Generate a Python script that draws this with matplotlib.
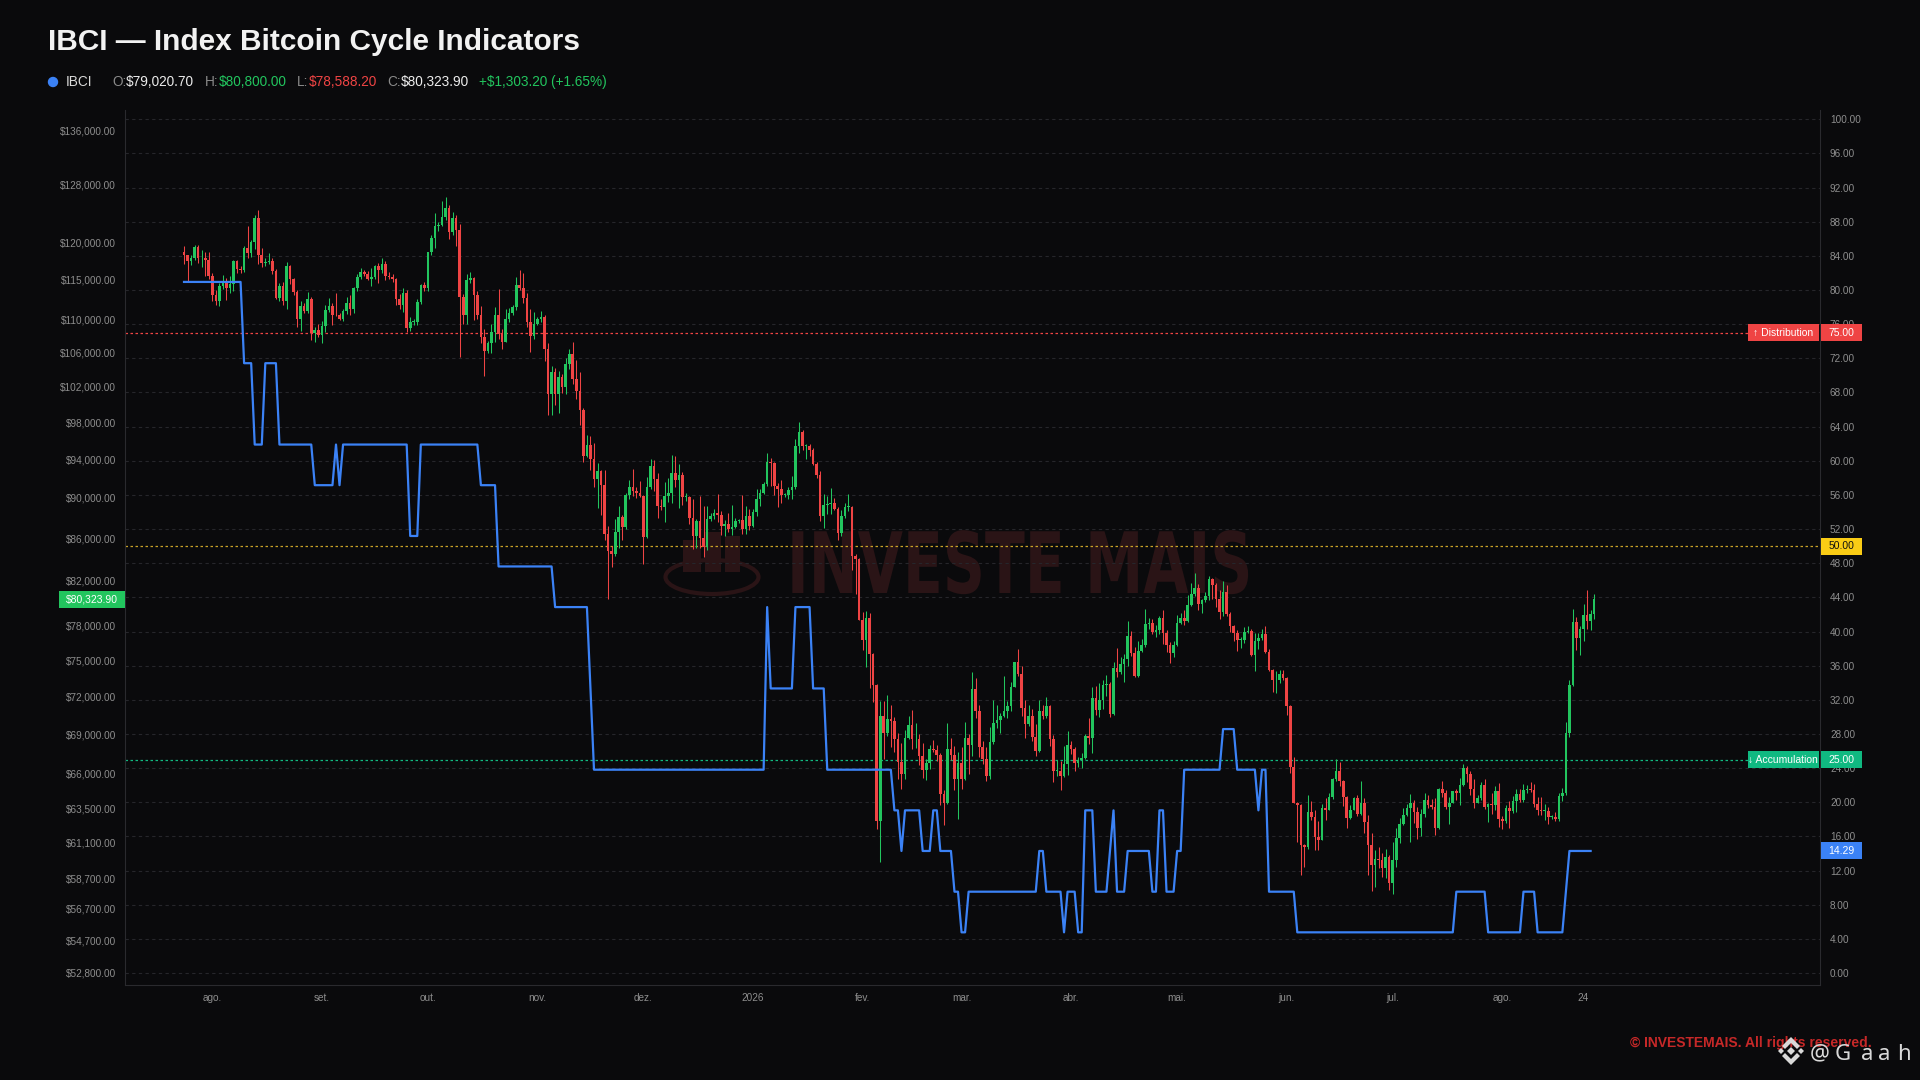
import numpy as np
import matplotlib
matplotlib.use("Agg")
import matplotlib.pyplot as plt
from matplotlib.patches import Ellipse, Rectangle, Polygon
from matplotlib.patheffects import AbstractPathEffect
from matplotlib.transforms import Affine2D
from matplotlib.ticker import NullLocator, NullFormatter

plt.rcParams['font.family'] = ['Liberation Sans', 'DejaVu Sans']

W, H = 1920, 1080
BG = '#0a0a0c'
GREEN = '#22c55e'
RED = '#ef4444'
BLUE = '#3b82f6'
GRID = '#26262b'
TICK = '#8e8e8e'
MARK = '#2a1416'

# day 0 = 1 Aug 2025, one candle per day (prices in k$)
first_day = -8
first_open = 118.7

closes = [
    118.2, 117.5, 117.9, 119.3, 117.8, 117.8, 117.6, 115.5, 113.0, 112.3,
    114.2, 114.8, 114.0, 114.5, 117.5, 116.4, 116.3, 119.2, 118.5, 120.0,
    123.3, 118.2, 117.2, 117.4, 117.5, 116.1, 112.7, 114.2, 112.3, 116.8,
    115.1, 113.4, 110.0, 111.7, 111.1, 112.5, 108.3, 108.7, 108.1, 109.2,
    111.2, 111.7, 110.6, 110.5, 110.1, 111.0, 112.0, 111.3, 113.9, 115.4,
    116.0, 115.8, 115.1, 115.4, 116.8, 116.3, 117.1, 115.5, 115.4, 115.1,
    112.6, 111.8, 113.3, 108.9, 109.7, 109.7, 112.2, 114.3, 113.9, 118.6,
    120.5, 122.2, 122.3, 123.4, 124.7, 121.3, 123.3, 121.6, 112.8, 110.6,
    115.0, 115.2, 113.0,
    110.6, 107.9, 106.2, 107.1, 108.5, 110.5, 108.2, 107.3, 110.0, 110.8,
    111.5, 114.4, 113.9, 112.7, 109.7, 108.0, 109.4, 110.0, 110.3, 106.4,
    101.2, 103.7, 101.1, 103.1, 102.0, 104.6, 105.8, 102.9, 101.5, 99.4,
    94.3, 95.5, 94.0, 91.9, 92.8, 91.3, 86.4, 84.8, 84.5, 86.6,
    88.1, 87.1, 90.3, 91.1, 90.7, 90.5, 90.2, 86.1, 91.1, 93.3,
    91.9, 89.2, 89.1, 90.2, 90.5, 92.6, 91.8, 92.4, 90.1, 90.1,
    88.0, 86.2, 87.7, 86.0, 85.2, 87.9, 88.2, 88.5, 88.3, 87.2,
    87.4, 86.9, 87.1, 87.7, 87.8, 86.9, 88.2, 87.2, 88.6, 89.9,
    90.5, 91.4, 93.7,
    93.6, 91.2, 90.9, 90.3, 90.3, 90.8, 91.1, 95.4, 96.9, 95.4,
    95.4, 95.0, 93.5, 92.4, 88.2, 89.3, 89.4, 89.5, 88.9, 86.5,
    88.2, 89.1, 89.1, 84.3, 84.0, 78.5, 76.7, 78.6, 75.5, 72.9,
    62.6, 70.4, 69.1, 70.2, 70.0, 68.6, 66.9, 66.0, 68.7, 69.7,
    68.6, 68.6, 67.3, 66.3, 66.8, 67.9, 67.8, 67.4, 64.5, 63.9,
    67.9, 67.4, 65.6, 66.8, 65.6, 68.7, 68.2, 72.6, 70.8, 68.0,
    67.1, 65.8, 68.4, 69.9, 70.1, 70.4, 70.8, 71.2, 72.8, 74.8,
    73.8, 71.1, 69.8, 70.4, 68.8, 67.7, 70.8, 70.4, 71.2, 68.6,
    66.2, 66.2, 65.8,
    66.7, 68.2, 67.9, 66.8, 67.0, 67.2, 68.9, 68.7, 71.9, 70.9,
    71.7, 72.9, 73.0, 70.6, 74.3, 74.0, 74.7, 75.1, 77.1, 75.6,
    73.7, 75.8, 76.3, 78.1, 78.2, 77.4, 77.6, 78.6, 77.3, 76.3,
    75.6, 76.3, 78.2, 78.6, 78.4, 79.8, 80.8, 81.3, 79.9, 80.2,
    80.6, 82.2, 81.6, 80.3, 79.2, 81.0, 79.0, 77.9, 77.3, 76.7,
    76.7, 77.4, 77.5, 75.4, 76.6, 76.9, 77.2, 75.7, 74.2, 73.3,
    73.3, 73.8, 73.5, 71.2, 66.5, 63.9, 63.7, 60.9, 60.8, 63.2,
    62.9, 61.5, 61.3, 63.5, 63.4, 64.3, 65.6, 66.2, 65.5, 64.3,
    62.8, 63.4, 64.2, 63.1,
    63.9, 62.5, 60.9, 59.6, 60.0, 59.9, 59.4, 60.1, 58.4, 59.9,
    61.4, 62.4, 63.0, 63.5, 63.9, 63.2, 62.1, 63.1, 64.1, 63.7,
    63.6, 62.1, 64.9, 64.6, 63.6, 63.9, 64.7, 64.6, 65.2, 66.4,
    66.0, 64.9, 63.9, 64.2, 65.2, 63.6, 63.8, 63.7, 64.7, 62.7,
    62.6, 63.5, 63.3, 64.0, 64.5, 64.1, 64.8, 64.9, 64.8, 63.8,
    63.4, 63.3, 63.3, 62.9, 62.9, 62.7, 64.4, 64.6, 69.1, 72.9,
    78.3, 76.9, 77.7, 78.9, 78.4, 79.0207,
]

# wick length beyond the body, in tenths of a percent
wick_up = [
    6, 1, 3, 3, 3, 10, 7, 9, 3, 6, 3, 7, 4, 9, 1, 1, 3, 2, 25, 2,
    3, 9, 8, 4, 9, 3, 3, 3, 5, 5, 1, 1, 3, 5, 3, 8, 3, 3, 7, 5,
    5, 9, 3, 24, 3, 3, 7, 10, 2, 3, 5, 2, 3, 10, 1, 4, 6, 3, 5, 3,
    1, 5, 6, 3, 6, 3, 3, 1, 4, 1, 4, 15, 4, 18, 12, 3, 7, 3, 7, 3,
    7, 7, 1,
    5, 10, 9, 3, 9, 9, 30, 6, 12, 6, 3, 8, 16, 17, 6, 15, 14, 3, 7, 2,
    7, 7, 4, 7, 3, 7, 6, 14, 21, 22, 2, 12, 10, 18, 9, 1, 17, 9, 6, 15,
    12, 2, 2, 8, 20, 4, 13, 1, 11, 8, 7, 7, 8, 16, 17, 20, 19, 12, 3, 4,
    1, 22, 2, 28, 37, 15, 3, 4, 21, 4, 5, 12, 25, 3, 1, 28, 11, 8, 3, 11,
    4, 2, 10,
    5, 1, 4, 10, 2, 3, 13, 8, 11, 3, 2, 2, 2, 2, 4, 12, 9, 17, 5, 2,
    7, 4, 14, 1, 2, 1, 9, 8, 6, 1, 2, 17, 17, 27, 16, 5, 7, 21, 9, 10,
    17, 19, 6, 15, 5, 4, 10, 5, 2, 5, 29, 12, 10, 12, 18, 18, 5, 19, 12, 7,
    7, 14, 17, 26, 17, 4, 41, 6, 5, 1, 15, 10, 9, 13, 8, 14, 13, 7, 10, 1,
    5, 13, 11,
    21, 15, 4, 2, 4, 5, 2, 20, 12, 13, 19, 6, 10, 2, 7, 23, 8, 5, 16, 5,
    7, 11, 7, 17, 6, 4, 5, 3, 10, 4, 3, 4, 9, 6, 9, 11, 12, 17, 5, 2,
    5, 3, 1, 2, 10, 12, 8, 2, 2, 4, 3, 6, 6, 2, 9, 5, 6, 9, 3, 1,
    11, 5, 5, 1, 1, 11, 1, 1, 2, 20, 13, 7, 18, 5, 11, 5, 1, 14, 10, 1,
    1, 5, 1, 4,
    25, 5, 8, 14, 10, 13, 8, 9, 2, 21, 11, 6, 8, 5, 10, 3, 6, 5, 8, 5,
    7, 10, 1, 9, 3, 6, 1, 3, 8, 5, 3, 3, 11, 4, 3, 6, 1, 12, 6, 10,
    4, 3, 8, 6, 6, 6, 7, 4, 8, 7, 8, 14, 8, 4, 2, 5, 3, 5, 12, 6,
    15, 5, 3, 12, 28, 4,
]
wick_dn = [
    10, 24, 5, 3, 5, 10, 18, 3, 6, 5, 6, 3, 14, 6, 8, 4, 3, 2, 5, 4,
    8, 9, 5, 3, 3, 3, 1, 3, 5, 9, 5, 3, 8, 13, 3, 3, 8, 10, 2, 9,
    7, 3, 12, 1, 2, 3, 3, 7, 5, 3, 3, 3, 1, 8, 3, 15, 3, 4, 2, 3,
    7, 5, 8, 4, 3, 3, 4, 3, 3, 3, 3, 11, 6, 1, 3, 7, 3, 18, 65, 10,
    10, 3, 27,
    5, 7, 28, 3, 11, 12, 5, 8, 1, 3, 2, 3, 2, 6, 6, 18, 4, 1, 3, 13,
    24, 24, 12, 21, 7, 8, 5, 6, 9, 17, 6, 1, 12, 9, 32, 33, 7, 53, 15, 2,
    18, 14, 2, 4, 6, 6, 1, 30, 1, 2, 13, 14, 4, 17, 7, 11, 8, 31, 9, 5,
    7, 14, 13, 11, 12, 4, 2, 3, 8, 10, 11, 3, 7, 1, 2, 5, 5, 5, 1, 5,
    8, 1, 2,
    25, 10, 20, 9, 2, 4, 10, 2, 8, 4, 14, 7, 1, 4, 6, 13, 10, 11, 1, 8,
    3, 2, 5, 15, 38, 1, 11, 30, 37, 19, 9, 45, 29, 3, 28, 14, 19, 17, 6, 1,
    11, 10, 10, 9, 12, 7, 2, 7, 12, 25, 2, 5, 12, 44, 11, 1, 33, 13, 7, 11,
    5, 5, 3, 2, 6, 14, 1, 8, 5, 1, 2, 9, 16, 2, 5, 5, 1, 3, 2, 7,
    12, 5, 15,
    1, 12, 6, 9, 4, 8, 1, 7, 17, 5, 8, 10, 12, 3, 1, 6, 2, 20, 8, 3,
    1, 1, 2, 2, 5, 2, 5, 5, 12, 8, 11, 5, 1, 1, 5, 1, 1, 2, 7, 10,
    2, 5, 16, 9, 8, 5, 2, 6, 9, 12, 9, 3, 1, 1, 17, 9, 2, 1, 1, 13,
    14, 3, 2, 10, 7, 1, 40, 33, 23, 2, 4, 15, 12, 1, 12, 1, 2, 2, 6, 10,
    11, 1, 1, 2,
    1, 12, 33, 29, 25, 9, 11, 12, 8, 13, 8, 5, 2, 1, 37, 12, 12, 9, 4, 3,
    3, 8, 1, 5, 2, 19, 1, 8, 14, 2, 9, 7, 6, 1, 2, 3, 17, 10, 5, 8,
    9, 2, 19, 2, 12, 2, 2, 3, 2, 3, 6, 4, 10, 8, 3, 2, 2, 6, 2, 5,
    1, 14, 19, 14, 9, 11,
]

last_open = 79020.70
last_high = 80800.00
last_low = 78588.20
last_close = 80323.90

# IBCI indicator: day where a new level starts, and that level
ibci_days = [-8, 9, 12, 15, 19, 29, 35, 36, 37, 56, 59, 76, 81, 97, 107,
             108, 157, 158, 165, 170, 174, 193, 195, 196, 201, 204, 206, 210, 212, 214,
             234, 236, 241, 242, 245, 247, 250, 254, 255, 256, 259, 266, 268, 270, 273,
             275, 286, 290, 296, 297, 299, 307, 352, 361, 371, 375, 383, 384]
ibci_vals = [80.95, 71.43, 61.90, 71.43, 61.90, 57.14, 61.90, 57.14, 61.90, 51.19, 61.90, 57.14, 47.62, 42.86, 33.33,
             23.81, 42.86, 33.33, 42.86, 33.33, 23.81, 19.05, 14.29, 19.05, 14.29, 19.05, 14.29, 9.52, 4.76, 9.52,
             14.29, 9.52, 4.76, 9.52, 4.76, 19.05, 9.52, 14.29, 19.05, 9.52, 14.29, 9.52, 19.05, 9.52, 14.29,
             23.81, 28.57, 23.81, 19.05, 23.81, 9.52, 4.76, 9.52, 4.76, 9.52, 4.76, 9.52, 14.29]
ibci_end = 390

month_days = [0, 31, 61, 92, 122, 153, 184, 212, 243, 273, 304, 334, 365, 388]
month_names = ['ago.', 'set.', 'out.', 'nov.', 'dez.', '2026', 'fev.', 'mar.',
               'abr.', 'mai.', 'jun.', 'jul.', 'ago.', '24']

price_ticks = [136000, 128000, 120000, 115000, 110000, 106000, 102000, 98000, 94000,
               90000, 86000, 82000, 78000, 75000, 72000, 69000, 66000, 63500, 61100,
               58700, 56700, 54700, 52800]
ibci_ticks = list(range(0, 101, 4))

level_vals = [75, 50, 25]
level_line_colors = [RED, '#c9a227', '#10b981']
level_tag_colors = [RED, '#facc15', '#10b981']
level_text_colors = ['white', '#111111', 'white']
level_names = ['↑ Distribution', None, '↓ Accumulation']


def fx(px):
    return px / W


def fy(py):
    return 1 - py / H


class Squeeze(AbstractPathEffect):
    # narrows the glyphs horizontally, for the condensed watermark lettering
    def __init__(self, sx):
        super().__init__()
        self.sx = sx

    def draw_path(self, renderer, gc, tpath, affine, rgbFace=None):
        renderer.draw_path(gc, tpath, Affine2D().scale(self.sx, 1) + affine, rgbFace)


# candles
c = np.append(np.array(closes) * 1000, last_close)
o = np.append(first_open * 1000, c[:-1])
top = np.maximum(o, c)
bot = np.minimum(o, c)
hi = np.append(top[:-1] * (1 + np.array(wick_up) / 1000), last_high)
lo = np.append(bot[:-1] * (1 - np.array(wick_dn) / 1000), last_low)
days = np.arange(first_day, first_day + len(c))

counts = np.diff(ibci_days + [ibci_end + 1])
ibci = np.repeat(ibci_vals, counts)
ibci_x = np.arange(ibci_days[0], ibci_end + 1)

fig = plt.figure(figsize=(W / 100, H / 100), dpi=100, facecolor=BG)
L, R, T, B = 125, 1820, 110, 985
ax = fig.add_axes([L / W, 1 - B / H, (R - L) / W, (B - T) / H])
ax.set_facecolor('none')
axp = ax.twinx()
axi = ax.twinx()

ax.set_xlim(-24.7, 454.9)
ax.set_ylim(-1.41, 101.09)
axi.set_ylim(-1.41, 101.09)
axp.set_yscale('log')
axp.set_ylim(52050, 139200)

# right scale, grid and levels
ax.yaxis.tick_right()
ax.set_yticks(ibci_ticks)
ax.set_yticklabels([f'{v:.2f}' for v in ibci_ticks])
ax.set_xticks(month_days)
ax.set_xticklabels(month_names)
ax.grid(axis='y', color=GRID, linestyle=(0, (3, 3)), linewidth=0.8)
ax.tick_params(axis='both', length=0, labelsize=7.2, labelcolor=TICK)
ax.tick_params(axis='y', pad=7.2)
ax.tick_params(axis='x', pad=5.5)
ax.spines['top'].set_visible(False)
for s in ['left', 'right', 'bottom']:
    ax.spines[s].set_color('#2a2a2e')
for v, col in zip(level_vals, level_line_colors):
    ax.axhline(v, color=col, linestyle=(0, (2, 2)), linewidth=0.9)

# price scale
axp.yaxis.tick_left()
axp.set_yticks(price_ticks)
axp.set_yticklabels([f'${p:,.2f}' for p in price_ticks])
axp.yaxis.set_minor_locator(NullLocator())
axp.yaxis.set_minor_formatter(NullFormatter())
axp.tick_params(axis='y', length=0, labelsize=7.2, labelcolor=TICK, pad=6.5)
for sp in axp.spines.values():
    sp.set_visible(False)

colors = np.where(c >= o, GREEN, RED)
axp.vlines(days, lo, hi, colors=colors, linewidth=0.75)
axp.bar(days, np.maximum(top - bot, bot * 0.0008), bottom=bot, width=0.74,
        color=colors, linewidth=0)

# indicator line
axi.set_yticks([])
for sp in axi.spines.values():
    sp.set_visible(False)
axi.plot(ibci_x, ibci, color=BLUE, linewidth=1.6)

# header
fig.text(fx(48), fy(50), 'IBCI — Index Bitcoin Cycle Indicators', fontsize=21.5,
         fontweight='bold', color='#f2f2f2', va='baseline')
fig.add_artist(Ellipse((fx(53), fy(82)), 9 / W, 9 / H, transform=fig.transFigure, color=BLUE))
fig.text(fx(66), fy(82), 'IBCI', fontsize=9.8, color='#d9d9d9', va='center')

renderer = fig.canvas.get_renderer()
chg = last_close - last_open
pieces = [(112, 'O:', f'${last_open:,.2f}', '#ececec'),
          (205, 'H:', f'${last_high:,.2f}', GREEN),
          (297, 'L:', f'${last_low:,.2f}', RED),
          (387, 'C:', f'${last_close:,.2f}', '#ececec')]
for x0, lab, val, col in pieces:
    t = fig.text(fx(x0), fy(82), lab, fontsize=9.8, color='#8a8a8a', va='center')
    x1 = t.get_window_extent(renderer).x1
    fig.text(x1 / W, fy(82), val, fontsize=9.8, color=col, va='center')
fig.text(fx(479), fy(82), f'+${chg:,.2f} (+{chg / last_open * 100:.2f}%)',
         fontsize=9.8, color=GREEN, va='center')


# value tags beside the axes
def tag(x0, x1, yp, text, fc, tc):
    fig.add_artist(Rectangle((x0 / W, (yp - 8.5) / H), (x1 - x0) / W, 17 / H,
                             transform=fig.transFigure, facecolor=fc, edgecolor='none', zorder=5))
    fig.text((x0 + x1) / 2 / W, yp / H, text, ha='center', va='center',
             fontsize=7.5, color=tc, zorder=6)


for v, fc, tc, name in zip(level_vals, level_tag_colors, level_text_colors, level_names):
    yp = ax.transData.transform((0, v))[1]
    tag(1821, 1862, yp, f'{v:.2f}', fc, tc)
    if name:
        tag(1819 - len(name) * 5.1, 1819, yp, name, fc, tc)

yp = axi.transData.transform((0, ibci[-1]))[1]
tag(1821, 1862, yp, f'{ibci[-1]:.2f}', BLUE, 'white')
yp = axp.transData.transform((0, last_close))[1]
tag(59, 125, yp, f'${last_close:,.2f}', GREEN, 'white')

# watermark behind the plot
fig.text(fx(787), fy(593), 'INVESTE MAIS', fontsize=61, fontweight='bold',
         family=['DejaVu Sans'], color=MARK, ha='left', va='baseline', zorder=-1,
         path_effects=[Squeeze(0.69)])
fig.add_artist(Ellipse((fx(712), fy(577)), 93 / W, 34 / H, transform=fig.transFigure,
                       fill=False, edgecolor=MARK, linewidth=3, zorder=-1))
for x0, x1, y0 in [(683, 701, 540), (705, 721, 532), (725, 740, 536)]:
    fig.add_artist(Rectangle((fx(x0), fy(572)), (x1 - x0) / W, (572 - y0) / H,
                             transform=fig.transFigure, facecolor=MARK, edgecolor='none', zorder=-1))

# footer
fig.text(fx(1872), fy(1043), '© INVESTEMAIS. All rights reserved.', ha='right', va='center',
         fontsize=10, fontweight='bold', color='#c62828')
cx, cy = 1791, 1051
logo = [
    [(0, 4), (4, 0), (0, -4), (-4, 0)],
    [(-10, 3), (-7, 0), (-10, -3), (-13, 0)],
    [(10, 3), (13, 0), (10, -3), (7, 0)],
    [(0, 14), (9, 5), (6, 2), (0, 8), (-6, 2), (-9, 5)],
    [(0, -14), (9, -5), (6, -2), (0, -8), (-6, -2), (-9, -5)],
]
for shape in logo:
    pts = [(fx(cx + dx), fy(cy - dy)) for dx, dy in shape]
    fig.add_artist(Polygon(pts, closed=True, transform=fig.transFigure,
                           facecolor='#d9d9d9', edgecolor='none', zorder=7))
for ch, x in zip('@Gaah', [1820, 1843, 1867, 1884, 1904]):
    fig.text(fx(x), fy(1054), ch, ha='center', va='center', fontsize=16,
             family=['Noto Sans', 'DejaVu Sans'], color='#d9d9d9', zorder=7)

fig.savefig('out.png', dpi=100, facecolor=BG)
